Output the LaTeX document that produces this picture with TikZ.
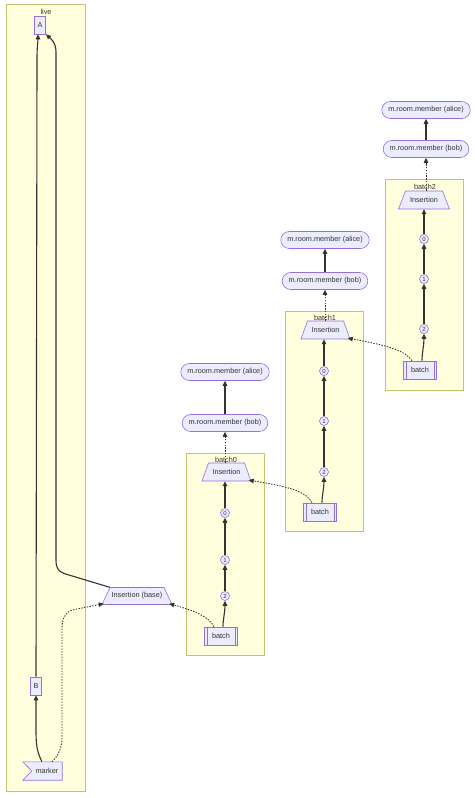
\documentclass[tikz,border=0pt]{standalone}
\usepackage{fontspec}
\setmainfont{Liberation Sans}
\usetikzlibrary{arrows.meta}
\definecolor{nfill}{HTML}{ECECFF}
\definecolor{nstroke}{HTML}{9370DB}
\definecolor{cfill}{HTML}{FFFFDE}
\definecolor{cstroke}{HTML}{AAAA33}
\definecolor{ecol}{HTML}{333333}
\definecolor{tcol}{HTML}{333333}
% trapezoid outline: centre x, centre y, half top width, half bottom width, half height
\newcommand\trapshape[5]{\filldraw[draw=nstroke, fill=nfill, line width=0.6pt]
  (#1-#3,#2-#5) -- (#1+#3,#2-#5) -- (#1+#4,#2+#5) -- (#1-#4,#2+#5) -- cycle;}
\begin{document}
\begin{tikzpicture}[x=1pt,y=-1pt,
  font=\fontsize{7.3}{8}\selectfont, text=tcol,
  box/.style={draw=nstroke, fill=nfill, line width=0.6pt, inner sep=0pt, minimum height=17pt},
  rectn/.style={box, minimum width=11pt, minimum height=18pt},
  stad/.style={box, rounded corners=8.5pt, inner xsep=6.5pt},
  trapt/.style={inner sep=0pt, minimum width=36pt, minimum height=18pt},
  circn/.style={box, circle, minimum size=9pt, font=\fontsize{6}{6}\selectfont},
  subr/.style={box, minimum width=33pt, minimum height=18pt},
  cluster/.style={draw=cstroke!70, fill=cfill, line width=0.5pt, inner sep=0pt},
  clab/.style={inner sep=0pt},
  edge/.style={draw=ecol, line width=1.1pt, -{Triangle[length=5pt,width=4.5pt]}},
  dots/.style={edge, line width=0.9pt, dash pattern=on 1.4pt off 1.4pt}
]
\useasboundingbox (0,0) rectangle (474,798);
\fill[white] (0,0) rectangle (474,798);

% clusters
\node[cluster, minimum width=79pt, minimum height=787pt] (live) at (45.5,397.5) {};
\node[clab] (livelab) at (46,12) {live};
\node[cluster, minimum width=78pt, minimum height=202pt] (c0) at (225,554) {};
\node[cluster, minimum width=78pt, minimum height=220pt] (c1) at (324,421) {};
\node[cluster, minimum width=78pt, minimum height=211pt] (c2) at (424,284.5) {};

% live nodes
\node[rectn] (A) at (40,25) {A};
\node[rectn] (B) at (36,686) {B};
\node[minimum width=30pt, minimum height=18pt, inner sep=0pt] (mk) at (47,771) {};
\filldraw[draw=nstroke, fill=nfill, line width=0.6pt]
  ([xshift=-9pt]mk.north west) -- (mk.north east) -- (mk.south east)
  -- ([xshift=-9pt]mk.south west) -- (mk.west) -- cycle;
\node (mklab) at (mk.center) {marker};
\trapshape{137}{596}{27}{35}{8.5}
\node[trapt, minimum width=54pt, minimum height=17pt] (Ib) at (137,596) {Insertion (base)};

% batch0
\trapshape{226.5}{472}{18}{24.5}{9}
\node[trapt] (I0) at (226.5,472) {Insertion};
\node[clab] (l0) at (226,460) {batch0};
\node[stad] (bob0) at (225,423) {m.room.member (bob)};
\node[stad] (al0) at (225,372) {m.room.member (alice)};
\node[circn] (n00) at (225,513) {0};
\node[circn] (n01) at (225,560) {1};
\node[circn] (n02) at (225,596) {2};
\node[subr] (b0) at (221,636) {batch};

% batch1
\trapshape{325.5}{330}{18}{24.5}{9}
\node[trapt] (I1) at (325.5,330) {Insertion};
\node[clab] (l1) at (325,318) {batch1};
\node[stad] (bob1) at (325,281) {m.room.member (bob)};
\node[stad] (al1) at (325,240) {m.room.member (alice)};
\node[circn] (n10) at (324,371) {0};
\node[circn] (n11) at (324,421) {1};
\node[circn] (n12) at (324,472) {2};
\node[subr] (b1) at (320,512) {batch};

% batch2
\trapshape{424}{200}{18.5}{25.5}{9}
\node[trapt] (I2) at (424,200) {Insertion};
\node[clab] (l2) at (425,187) {batch2};
\node[stad] (bob2) at (426,149) {m.room.member (bob)};
\node[stad] (al2) at (426,110) {m.room.member (alice)};
\node[circn] (n20) at (424,239) {0};
\node[circn] (n21) at (424,279) {1};
\node[circn] (n22) at (424,329) {2};
\node[subr] (b2) at (420,370) {batch};

% subroutine inner lines
\foreach \b in {b0,b1,b2}{
  \draw[nstroke, line width=0.6pt] ([xshift=3pt]\b.north west) -- ([xshift=3pt]\b.south west);
  \draw[nstroke, line width=0.6pt] ([xshift=-3pt]\b.north east) -- ([xshift=-3pt]\b.south east);
}

% live edges
\draw[edge] ([xshift=-5pt]mk.north) .. controls (37,752) and (36,745) .. (36,730) -- (B.south);
\draw[edge] (B.north) -- (37,60) .. controls (37,45) and (38,42) .. ([xshift=-2pt]A.south);
\draw[edge] (Ib.north west) -- (64,573.5) .. controls (58,571) and (56,568) .. (56,560)
  -- (56,52) .. controls (56,42) and (50,38) .. ([xshift=6pt]A.south);
\draw[dots] ([xshift=5pt]mk.north) .. controls (58,756) and (62,748) .. (62,738)
  -- (62,628) .. controls (62,618) and (66,612) .. (72,610) -- ([xshift=-6pt,yshift=1pt]Ib.south west);

% batch0 edges
\draw[edge] ([xshift=2pt]b0.north) .. controls +(0,-8) and +(0,12) .. (n02.south);
\draw[edge] (n02.north) -- (n01.south);
\draw[edge] (n01.north) -- (n00.south);
\draw[edge] (n00.north) -- (n00.north |- I0.south);
\draw[dots] (bob0.south |- I0.north) -- (bob0.south);
\draw[edge] (bob0.north) -- (al0.south);
\draw[dots] ([xshift=-7pt]b0.north) .. controls (208,616) and (195,611) .. ([xshift=5pt,yshift=1pt]Ib.south east);

% batch1 edges
\draw[edge] ([xshift=2pt]b1.north) .. controls +(0,-8) and +(0,12) .. (n12.south);
\draw[edge] (n12.north) -- (n11.south);
\draw[edge] (n11.north) -- (n10.south);
\draw[edge] (n10.north) -- (n10.north |- I1.south);
\draw[dots] (bob1.south |- I1.north) -- (bob1.south);
\draw[edge] (bob1.north) -- (al1.south);
\draw[dots] ([xshift=-8pt]b1.north) .. controls (306,492) and (292,487) .. ([xshift=4pt,yshift=1pt]I0.south east);

% batch2 edges
\draw[edge] ([xshift=2pt]b2.north) .. controls +(0,-8) and +(0,12) .. (n22.south);
\draw[edge] (n22.north) -- (n21.south);
\draw[edge] (n21.north) -- (n20.south);
\draw[edge] (n20.north) -- (n20.north |- I2.south);
\draw[dots] (bob2.south |- I2.north) -- (bob2.south);
\draw[edge] (bob2.north) -- (al2.south);
\draw[dots] ([xshift=-8pt]b2.north) .. controls (405,351) and (391,346) .. ([xshift=4pt,yshift=1pt]I1.south east);
\end{tikzpicture}
\end{document}
